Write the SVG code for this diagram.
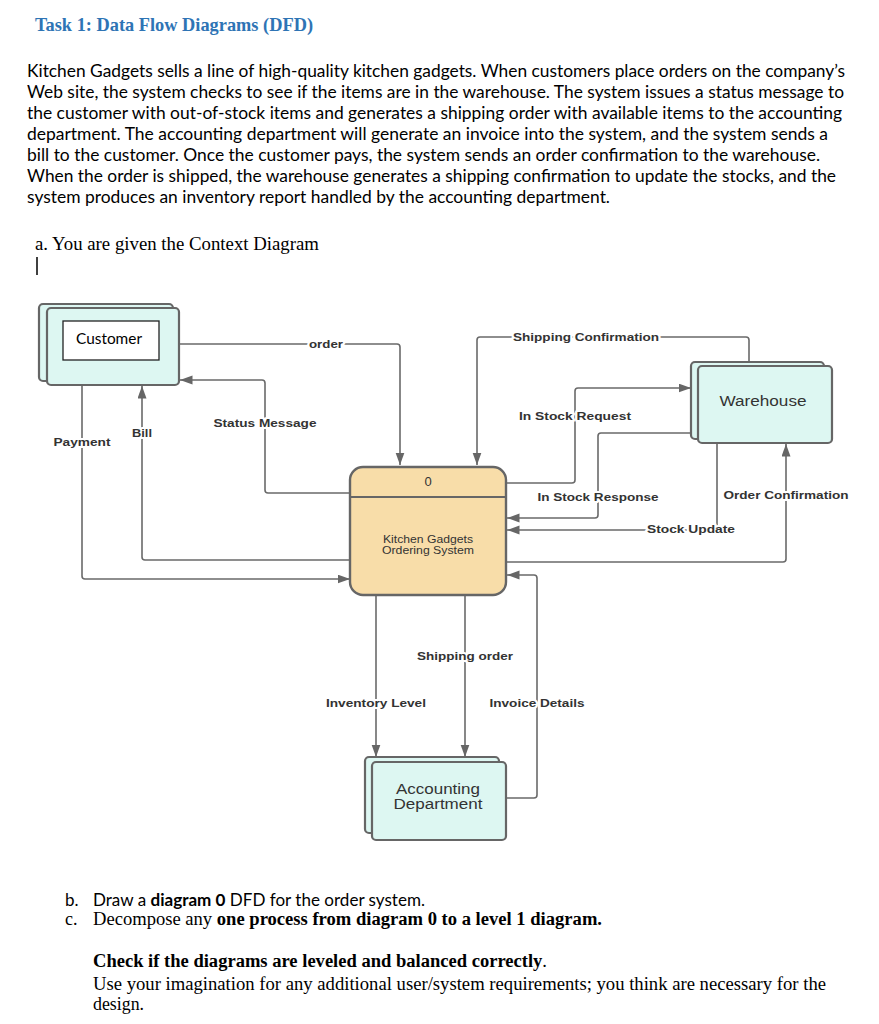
<svg xmlns="http://www.w3.org/2000/svg" width="879" height="1024" viewBox="0 0 879 1024">
<style>
  .para { font-family: Lato, "Liberation Sans", sans-serif; font-size: 17px; fill: #000; }
  .serif { font-family: "Liberation Serif", serif; font-size: 18px; fill: #000; }
  .title { font-family: "Liberation Serif", serif; font-size: 19px; font-weight: bold; fill: #2E74B5; }
  .lbl { font-family: "Liberation Sans", Arial, sans-serif; font-size: 11.5px; font-weight: bold; fill: #333; text-anchor: middle; stroke: #fff; stroke-width: 4px; paint-order: stroke; stroke-linejoin: round; }
  .ent { fill: #DDF7F2; stroke: #666; stroke-width: 2.2; }
  .proc { fill: #F8DDA9; stroke: #666; stroke-width: 2.4; }
  .ntext { font-family: "Liberation Sans", Arial, sans-serif; fill: #333; text-anchor: middle; }
  .flow { fill: none; stroke: #6a6a6a; stroke-width: 1.6; marker-end: url(#arr); }
  .flown { fill: none; stroke: #6a6a6a; stroke-width: 1.6; }
</style>
<defs>
  <marker id="arr" markerUnits="userSpaceOnUse" markerWidth="13" markerHeight="10" refX="12.5" refY="4.5" orient="auto">
    <path d="M0,0 L12.5,4.5 L0,9 z" fill="#666"/>
  </marker>
</defs>
<rect width="879" height="1024" fill="#fff"/>

<g id="header">
  <text class="title" x="35" y="31" textLength="278" lengthAdjust="spacingAndGlyphs">Task 1: Data Flow Diagrams (DFD)</text>
  <text class="para" x="27" y="77" textLength="818" lengthAdjust="spacingAndGlyphs">Kitchen Gadgets sells a line of high-quality kitchen gadgets. When customers place orders on the company’s</text>
  <text class="para" x="27" y="98" textLength="817" lengthAdjust="spacingAndGlyphs">Web site, the system checks to see if the items are in the warehouse. The system issues a status message to</text>
  <text class="para" x="27" y="119" textLength="815" lengthAdjust="spacingAndGlyphs">the customer with out-of-stock items and generates a shipping order with available items to the accounting</text>
  <text class="para" x="27" y="140" textLength="801" lengthAdjust="spacingAndGlyphs">department. The accounting department will generate an invoice into the system, and the system sends a</text>
  <text class="para" x="27" y="161" textLength="793" lengthAdjust="spacingAndGlyphs">bill to the customer. Once the customer pays, the system sends an order confirmation to the warehouse.</text>
  <text class="para" x="27" y="182" textLength="809" lengthAdjust="spacingAndGlyphs">When the order is shipped, the warehouse generates a shipping confirmation to update the stocks, and the</text>
  <text class="para" x="27" y="203" textLength="583" lengthAdjust="spacingAndGlyphs">system produces an inventory report handled by the accounting department.</text>
  <text class="serif" x="35" y="250" textLength="284" lengthAdjust="spacingAndGlyphs">a. You are given the Context Diagram</text>
  <line x1="37" y1="257" x2="37" y2="275" stroke="#000" stroke-width="1.5"/>
</g>

<g id="connectors">
  <path id="f-order" class="flow" d="M179,344 H397 Q400,344 400,347 V465"/>
  <path id="f-shipconf" class="flow" d="M749,364 V340 Q749,337 746,337 H480 Q477,337 477,340 V465"/>
  <path id="f-status" class="flow" d="M350,493 H268 Q265,493 265,490 V383 Q265,380 262,380 H180"/>
  <path id="f-bill" class="flow" d="M350,560 H145 Q142,560 142,557 V386"/>
  <path id="f-payment" class="flow" d="M82,385 V576 Q82,579 85,579 H350"/>
  <path id="f-instockreq" class="flow" d="M506,483 H572 Q575,483 575,480 V391 Q575,388 578,388 H691"/>
  <path id="f-instockresp" class="flow" d="M691,433 H601 Q598,433 598,436 V515 Q598,518 595,518 H507"/>
  <path id="f-stockupd" class="flow" d="M717,443 V527 Q717,530 714,530 H507"/>
  <path id="f-orderconf" class="flow" d="M506,562 H783 Q786,562 786,559 V444"/>
  <path id="f-invoice" class="flow" d="M506,798 H534 Q537,798 537,795 V578 Q537,575 534,575 H507"/>
  <path id="f-shiporder" class="flow" d="M465,596 V757"/>
  <path id="f-inventory" class="flow" d="M376,596 V757"/>

  <text class="lbl" x="326" y="348" textLength="34" lengthAdjust="spacingAndGlyphs">order</text>
  <text class="lbl" x="586" y="341" textLength="146" lengthAdjust="spacingAndGlyphs">Shipping Confirmation</text>
  <text class="lbl" x="265" y="427" textLength="103" lengthAdjust="spacingAndGlyphs">Status Message</text>
  <text class="lbl" x="142" y="437" textLength="20" lengthAdjust="spacingAndGlyphs">Bill</text>
  <text class="lbl" x="82" y="446" textLength="57" lengthAdjust="spacingAndGlyphs">Payment</text>
  <text class="lbl" x="575" y="420" textLength="112" lengthAdjust="spacingAndGlyphs">In Stock Request</text>
  <text class="lbl" x="598" y="501" textLength="121" lengthAdjust="spacingAndGlyphs">In Stock Response</text>
  <text class="lbl" x="691" y="533" textLength="88" lengthAdjust="spacingAndGlyphs">Stock Update</text>
  <text class="lbl" x="786" y="499" textLength="125" lengthAdjust="spacingAndGlyphs">Order Confirmation</text>
  <text class="lbl" x="537" y="707" textLength="95" lengthAdjust="spacingAndGlyphs">Invoice Details</text>
  <text class="lbl" x="465" y="660" textLength="96" lengthAdjust="spacingAndGlyphs">Shipping order</text>
  <text class="lbl" x="376" y="707" textLength="100" lengthAdjust="spacingAndGlyphs">Inventory Level</text>
</g>

<g id="customer">
  <rect class="ent" x="39" y="304" width="134" height="77" rx="4"/>
  <rect class="ent" x="47" y="308" width="132" height="77" rx="4"/>
  <rect x="63" y="321" width="96" height="39" fill="#fff" stroke="#222" stroke-width="1.3"/>
  <text x="109" y="344" font-family="Lato, 'Liberation Sans', sans-serif" font-size="15.5" fill="#000" text-anchor="middle" textLength="66" lengthAdjust="spacingAndGlyphs">Customer</text>
</g>

<g id="warehouse">
  <rect class="ent" x="691" y="362" width="133" height="77" rx="4"/>
  <rect class="ent" x="698" y="366" width="134" height="77" rx="4"/>
  <text class="ntext" x="763" y="406" font-size="14" textLength="87" lengthAdjust="spacingAndGlyphs">Warehouse</text>
</g>

<g id="process">
  <rect class="proc" x="350" y="467" width="156" height="128" rx="13"/>
  <line x1="350" y1="497" x2="506" y2="497" stroke="#666" stroke-width="2"/>
  <text class="ntext" x="428" y="486" font-size="13">0</text>
  <text class="ntext" x="428" y="543" font-size="10.5" textLength="90" lengthAdjust="spacingAndGlyphs">Kitchen Gadgets</text>
  <text class="ntext" x="428" y="554" font-size="10.5" textLength="92" lengthAdjust="spacingAndGlyphs">Ordering System</text>
</g>

<g id="accounting">
  <rect class="ent" x="365" y="757" width="134" height="76" rx="4"/>
  <rect class="ent" x="372" y="762" width="134" height="78" rx="4"/>
  <text class="ntext" x="438" y="794" font-size="14" textLength="84" lengthAdjust="spacingAndGlyphs">Accounting</text>
  <text class="ntext" x="438" y="809" font-size="14" textLength="89" lengthAdjust="spacingAndGlyphs">Department</text>
</g>

<g id="footer">
  <text class="para" x="65" y="906">b.</text>
  <text class="para" x="93" y="906" textLength="332" lengthAdjust="spacingAndGlyphs">Draw a <tspan font-weight="bold">diagram 0</tspan> DFD for the order system.</text>
  <text class="serif" x="65" y="925">c.</text>
  <text class="serif" x="93" y="925" textLength="509" lengthAdjust="spacingAndGlyphs">Decompose any <tspan font-weight="bold">one process from diagram 0 to a level 1 diagram.</tspan></text>
  <text class="serif" x="93" y="967" textLength="454" lengthAdjust="spacingAndGlyphs"><tspan font-weight="bold">Check if the diagrams are leveled and balanced correctly</tspan>.</text>
  <text class="serif" x="93" y="990" textLength="733" lengthAdjust="spacingAndGlyphs">Use your imagination for any additional user/system requirements; you think are necessary for the</text>
  <text class="serif" x="93" y="1010" textLength="51" lengthAdjust="spacingAndGlyphs">design.</text>
</g>
</svg>
